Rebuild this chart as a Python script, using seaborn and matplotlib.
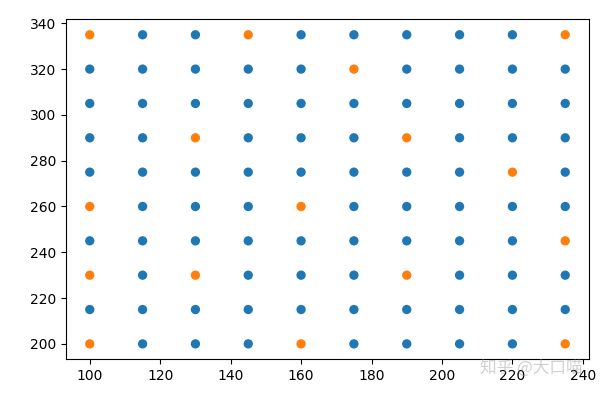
import pandas as pd
import matplotlib.pyplot as plt
import seaborn as sns

x_vals = [100, 115, 130, 145, 160, 175, 190, 205, 220, 235]
y_vals = [200, 215, 230, 245, 260, 275, 290, 305, 320, 335]

# highlighted points (orange)
hi_x = [100, 145, 235, 175, 130, 190, 220, 100, 160, 235, 100, 130, 190, 100, 160, 235]
hi_y = [335, 335, 335, 320, 290, 290, 275, 260, 260, 245, 230, 230, 230, 200, 200, 200]

hi = set(zip(hi_x, hi_y))
rows = []
for x in x_vals:
    for y in y_vals:
        rows.append({'x': x, 'y': y, 'grp': 'b' if (x, y) not in hi else 'o'})
df = pd.DataFrame(rows)
df = df.sort_values('grp')

fig = plt.figure(figsize=(6.11, 3.94), dpi=100)
ax = fig.add_axes([0.108, 0.088, 0.856, 0.863])
sns.scatterplot(data=df, x='x', y='y', hue='grp', hue_order=['b', 'o'],
                palette=['#1f77b4', '#ff7f0e'], s=45, linewidth=0,
                legend=False, ax=ax)
ax.set_xlabel('')
ax.set_ylabel('')
ax.tick_params(labelsize=10)

fig.text(0.785, 0.055, '知乎 @大口喵', fontsize=12, color='#999999', alpha=0.45,
         family=['Noto Sans CJK SC', 'DejaVu Sans'])

fig.savefig('out.png', dpi=100)
